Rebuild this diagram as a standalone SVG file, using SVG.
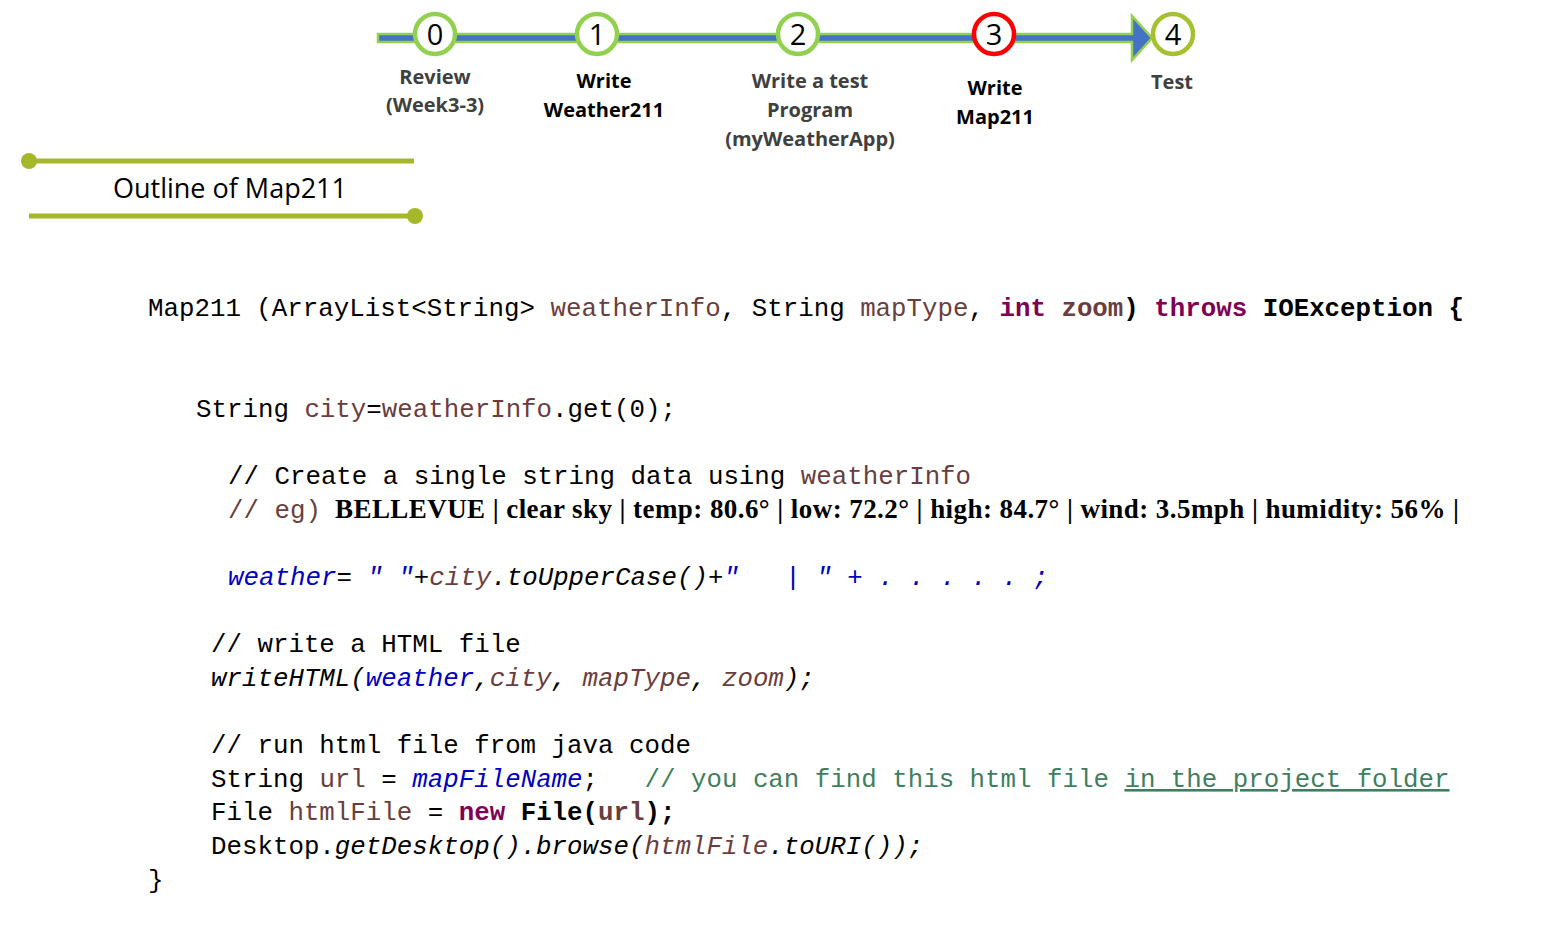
<svg xmlns="http://www.w3.org/2000/svg" width="1563" height="925" viewBox="0 0 1563 925">
<style>
.c{font-family:"Liberation Mono",monospace;font-size:25.8px;fill:#000;white-space:pre}
.v{fill:#6a3e3e}.k{fill:#7f0055;font-weight:bold}.b{fill:#0000c0;font-style:italic}.i{font-style:italic}.g{fill:#3f7f5f}
.t{font-family:"Liberation Serif",serif;font-weight:bold;font-size:27px;fill:#000}
.n{font-family:"Open Sans","Liberation Sans",sans-serif;font-size:29px;fill:#000;text-anchor:middle}
.l{font-family:"Open Sans","Liberation Sans",sans-serif;font-weight:bold;font-size:20px;text-anchor:middle}
</style>
<g id="timeline">
<path d="M378,34 H1132 V16 L1152,38 L1132,60 V42 H378 Z" fill="#4472c4" stroke="#92d050" stroke-width="2.5"/>
</g>
<g id="step0"><circle cx="435" cy="34" r="20" fill="#fff" stroke="#92d050" stroke-width="4.5"/><text class="n" x="435" y="45">0</text>
<text class="l" fill="#404040" x="435" y="84">Review</text><text class="l" fill="#404040" x="435" y="112">(Week3-3)</text></g>
<g id="step1"><circle cx="597" cy="34" r="20" fill="#fff" stroke="#92d050" stroke-width="4.5"/><text class="n" x="597" y="45">1</text>
<text class="l" fill="#000" x="604" y="88">Write</text><text class="l" fill="#000" x="604" y="117">Weather211</text></g>
<g id="step2"><circle cx="798" cy="34" r="20" fill="#fff" stroke="#92d050" stroke-width="4.5"/><text class="n" x="798" y="45">2</text>
<text class="l" fill="#404040" x="810" y="88">Write a test</text><text class="l" fill="#404040" x="810" y="117">Program</text><text class="l" fill="#404040" x="810" y="146">(myWeatherApp)</text></g>
<g id="step3"><circle cx="994" cy="34" r="20" fill="#fff" stroke="#ff0000" stroke-width="4.5"/><text class="n" x="994" y="45">3</text>
<text class="l" fill="#000" x="995" y="95">Write</text><text class="l" fill="#000" x="995" y="124">Map211</text></g>
<g id="step4"><circle cx="1173" cy="34" r="20" fill="#fff" stroke="#a5c12f" stroke-width="4.5"/><text class="n" x="1173" y="45">4</text>
<text class="l" fill="#404040" x="1172" y="89">Test</text></g>
<g id="outline">
<line x1="29" y1="161" x2="414" y2="161" stroke="#a5b82a" stroke-width="5"/><circle cx="29" cy="161" r="8" fill="#a5b82a"/>
<line x1="29" y1="216" x2="415" y2="216" stroke="#a5b82a" stroke-width="5"/><circle cx="415" cy="216" r="8" fill="#a5b82a"/>
<text x="230" y="198" font-family="Open Sans, Liberation Sans, sans-serif" font-size="27" text-anchor="middle">Outline of Map211</text>
</g>
<g id="code">
<text class="c" x="148" y="316">Map211 (ArrayList&lt;String&gt; <tspan class="v">weatherInfo</tspan>, String <tspan class="v">mapType</tspan>, <tspan class="k">int</tspan> <tspan class="v" font-weight="bold">zoom</tspan><tspan font-weight="bold">)</tspan> <tspan class="k">throws</tspan> <tspan font-weight="bold">IOException {</tspan></text>
<text class="c" x="196" y="417">String <tspan class="v">city</tspan>=<tspan class="v">weatherInfo</tspan>.get(0);</text>
<text class="c" x="228" y="484">// Create a single string data using <tspan class="v">weatherInfo</tspan></text>
<text class="c v" x="228" y="518">// eg)</text>
<text class="t" x="335" y="518" textLength="1124">BELLEVUE | clear sky | temp: 80.6° | low: 72.2° | high: 84.7° | wind: 3.5mph | humidity: 56% |</text>
<text class="c" x="228" y="585"><tspan class="b">weather</tspan>= <tspan class="b">" "</tspan><tspan class="i">+</tspan><tspan class="v i">city</tspan><tspan class="i">.toUpperCase()+</tspan><tspan class="b">"   | " + . . . . . ;</tspan></text>
<text class="c" x="211" y="652">// write a HTML file</text>
<text class="c i" x="211" y="686">writeHTML(<tspan class="b">weather</tspan>,<tspan class="v">city</tspan>, <tspan class="v">mapType</tspan>, <tspan class="v">zoom</tspan>);</text>
<text class="c" x="211" y="753">// run html file from java code</text>
<text class="c" x="211" y="787">String <tspan class="v">url</tspan> = <tspan class="b">mapFileName</tspan>;   <tspan class="g">// you can find this html file <tspan text-decoration="underline">in the project folder</tspan></tspan></text>
<text class="c" x="211" y="820">File <tspan class="v">htmlFile</tspan> = <tspan class="k">new</tspan> <tspan font-weight="bold">File(</tspan><tspan class="v" font-weight="bold">url</tspan><tspan font-weight="bold">);</tspan></text>
<text class="c" x="211" y="854">Desktop.<tspan class="i">getDesktop().browse(</tspan><tspan class="v i">htmlFile</tspan><tspan class="i">.toURI());</tspan></text>
<text class="c" x="148" y="888">}</text>
</g>
</svg>
